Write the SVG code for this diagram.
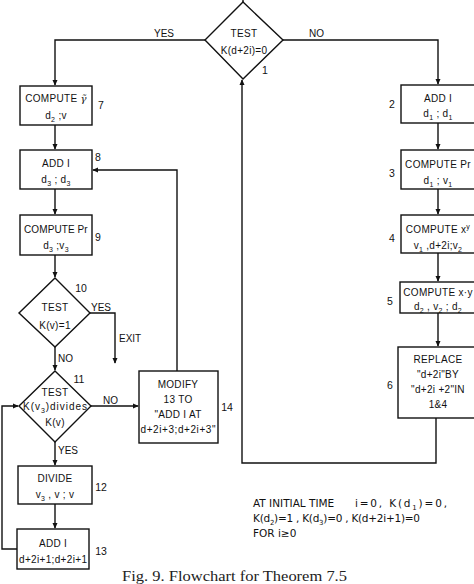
<svg xmlns="http://www.w3.org/2000/svg" width="474" height="584" viewBox="0 0 474 584">
<defs>
<marker id="ah" viewBox="0 0 8 8" refX="7" refY="4" markerWidth="6" markerHeight="6" orient="auto" markerUnits="userSpaceOnUse">
<path d="M0,0.5 L8,4 L0,7.5 Z" fill="#111"/>
</marker>
<style>
.b{fill:#fff;stroke:#111;stroke-width:1.4}
.l{fill:none;stroke:#111;stroke-width:1.4}
.t{font-family:"Liberation Sans",Arial,sans-serif;font-size:10px;fill:#111;text-anchor:middle;letter-spacing:0.3px}
.n{font-family:"Liberation Sans",Arial,sans-serif;font-size:10.5px;fill:#111;text-anchor:middle}
.a{font-family:"Liberation Sans",Arial,sans-serif;font-size:10px;fill:#111}
.m{font-family:"DejaVu Sans",sans-serif;font-size:10.5px;fill:#111}
.s{font-size:7px;baseline-shift:-2.5px}
.p{font-size:7px;baseline-shift:4px}
.g{font-family:"DejaVu Serif",serif;font-style:italic}
.c{font-family:"Liberation Serif","Times New Roman",serif;font-size:15px;fill:#222}
</style>
</defs>
<rect width="474" height="584" fill="#fff"/>

<g id="connectors">
<path class="l" d="M243,0 V2"/>
<path class="l" d="M205,40 H55 V85" marker-end="url(#ah)"/>
<path class="l" d="M283,40 H438 V84" marker-end="url(#ah)"/>
<path class="l" d="M55,125 V149" marker-end="url(#ah)"/>
<path class="l" d="M55,189 V214" marker-end="url(#ah)"/>
<path class="l" d="M55,255 V277" marker-end="url(#ah)"/>
<path class="l" d="M90,313 H115 V363" marker-end="url(#ah)"/>
<path class="l" d="M55,347 V370" marker-end="url(#ah)"/>
<path class="l" d="M91,406 H138" marker-end="url(#ah)"/>
<path class="l" d="M177,371 V170 H93" marker-end="url(#ah)"/>
<path class="l" d="M55,442 V465" marker-end="url(#ah)"/>
<path class="l" d="M55,504 V528" marker-end="url(#ah)"/>
<path class="l" d="M17,549 H2 V406 H18" marker-end="url(#ah)"/>
<path class="l" d="M438,123 V149" marker-end="url(#ah)"/>
<path class="l" d="M438,189 V214" marker-end="url(#ah)"/>
<path class="l" d="M438,253 V281" marker-end="url(#ah)"/>
<path class="l" d="M438,313 V346" marker-end="url(#ah)"/>
<path class="l" d="M436,418 V463 H242 V80" marker-end="url(#ah)"/>
<text class="a" x="154" y="37">YES</text>
<text class="a" x="309" y="37">NO</text>
<text class="a" x="91" y="311">YES</text>
<text class="a" x="119" y="342">EXIT</text>
<text class="a" x="58" y="362">NO</text>
<text class="a" x="103" y="404">NO</text>
<text class="a" x="58" y="454">YES</text>
</g>

<g id="n1">
<path class="b" d="M243,2 L283,40 L243,79 L205,40 Z"/>
<text class="t" x="244" y="37">TEST</text>
<text class="t" x="244" y="54">K(d+2i)=0</text>
<text class="n" x="265" y="74">1</text>
</g>

<g id="n7">
<rect class="b" x="20" y="86" width="72" height="39"/>
<text class="t" x="56" y="102">COMPUTE <tspan class="g">γ̃</tspan></text>
<text class="t" x="56" y="119">d<tspan class="s">2</tspan> ;v</text>
<text class="n" x="101" y="109">7</text>
</g>

<g id="n8">
<rect class="b" x="20" y="150" width="72" height="39"/>
<text class="t" x="56" y="167">ADD I</text>
<text class="t" x="56" y="183">d<tspan class="s">3</tspan> ; d<tspan class="s">3</tspan></text>
<text class="n" x="98" y="161">8</text>
</g>

<g id="n9">
<rect class="b" x="20" y="215" width="72" height="40"/>
<text class="t" x="56" y="233" textLength="64">COMPUTE  Pr</text>
<text class="t" x="56" y="249">d<tspan class="s">3</tspan> ;v<tspan class="s">3</tspan></text>
<text class="n" x="98" y="241">9</text>
</g>

<g id="n10">
<path class="b" d="M55,278 L90,313 L55,347 L19,313 Z"/>
<text class="t" x="55" y="311">TEST</text>
<text class="t" x="55" y="329">K(v)=1</text>
<text class="n" x="81" y="292">10</text>
</g>

<g id="n11">
<path class="b" d="M55,371 L91,406 L55,442 L19,406 Z"/>
<text class="t" x="55" y="396">TEST</text>
<text class="t" x="55" y="410" textLength="64" style="letter-spacing:0">K(v<tspan class="s">3</tspan>)divides</text>
<text class="t" x="55" y="426">K(v)</text>
<text class="n" x="79" y="383">11</text>
</g>

<g id="n12">
<rect class="b" x="18" y="466" width="74" height="38"/>
<text class="t" x="55" y="482">DIVIDE</text>
<text class="t" x="55" y="498">v<tspan class="s">3</tspan> , v ; v</text>
<text class="n" x="101" y="491">12</text>
</g>

<g id="n13">
<rect class="b" x="17" y="529" width="72" height="40"/>
<text class="t" x="53" y="547">ADD I</text>
<text class="t" x="53" y="563" textLength="68" style="letter-spacing:0">d+2i+1;d+2i+1</text>
<text class="n" x="101" y="555">13</text>
</g>

<g id="n14">
<rect class="b" x="139" y="371" width="79" height="72"/>
<text class="t" x="178" y="388">MODIFY</text>
<text class="t" x="178" y="403">13 TO</text>
<text class="t" x="178" y="418">"ADD I AT</text>
<text class="t" x="178" y="433" textLength="75" style="letter-spacing:0">d+2i+3;d+2i+3"</text>
<text class="n" x="227" y="411">14</text>
</g>

<g id="n2">
<rect class="b" x="401" y="85" width="74" height="38"/>
<text class="t" x="438" y="102">ADD I</text>
<text class="t" x="438" y="117">d<tspan class="s">1</tspan> ; d<tspan class="s">1</tspan></text>
<text class="n" x="392" y="108">2</text>
</g>

<g id="n3">
<rect class="b" x="401" y="150" width="74" height="39"/>
<text class="t" x="438" y="168">COMPUTE  Pr</text>
<text class="t" x="438" y="184">d<tspan class="s">1</tspan> ; v<tspan class="s">1</tspan></text>
<text class="n" x="392" y="177">3</text>
</g>

<g id="n4">
<rect class="b" x="401" y="215" width="74" height="38"/>
<text class="t" x="438" y="233">COMPUTE  x<tspan class="p">y</tspan></text>
<text class="t" x="438" y="249">v<tspan class="s">1</tspan> ,d+2i;v<tspan class="s">2</tspan></text>
<text class="n" x="392" y="242">4</text>
</g>

<g id="n5">
<rect class="b" x="400" y="282" width="75" height="31"/>
<text class="t" x="438" y="296">COMPUTE  x·y</text>
<text class="t" x="438" y="310">d<tspan class="s">2</tspan> , v<tspan class="s">2</tspan> ; d<tspan class="s">2</tspan></text>
<text class="n" x="390" y="305">5</text>
</g>

<g id="n6">
<rect class="b" x="398" y="347" width="77" height="71"/>
<text class="t" x="438" y="363">REPLACE</text>
<text class="t" x="438" y="378">"d+2i"BY</text>
<text class="t" x="438" y="393">"d+2i +2"IN</text>
<text class="t" x="438" y="408">1&amp;4</text>
<text class="n" x="390" y="389">6</text>
</g>

<g id="note">
<text class="m" x="253" y="507">AT INITIAL TIME<tspan x="355" textLength="92">i=0, K(d<tspan class="s">1</tspan>)=0,</tspan></text>
<text class="m" x="253" y="522" textLength="167">K(d<tspan class="s">2</tspan>)=1 , K(d<tspan class="s">3</tspan>)=0 , K(d+2i+1)=0</text>
<text class="m" x="253" y="537">FOR i≥0</text>
</g>

<text class="c" x="122" y="581" textLength="225" lengthAdjust="spacingAndGlyphs">Fig. 9.   Flowchart for Theorem 7.5</text>
</svg>
